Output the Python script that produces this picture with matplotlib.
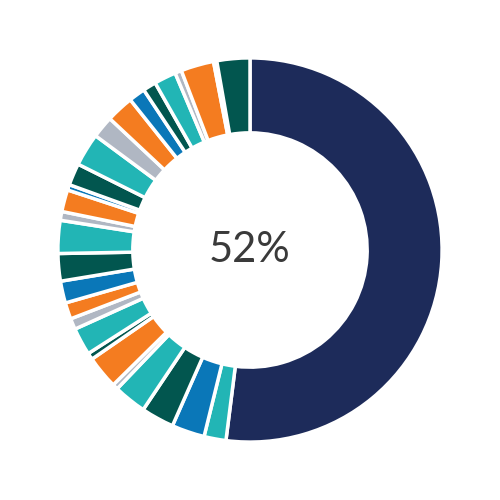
import matplotlib
matplotlib.use("Agg")
import matplotlib.pyplot as plt

C = {"navy": "#1d2b5a", "teal": "#22b5b5", "blue": "#0a77b8", "dg": "#02564f",
     "gray": "#b0b7c3", "or": "#f47c20"}
values = [52, 2, 3, 3, 3, 0.5, 3, 0.6, 2.5, 1, 1.5, 2, 2.5, 3, 0.8, 2, 0.5, 2, 3, 2, 2.5,
          1.5, 1.2, 2, 0.6, 3, 0.3, 3]
colors = ["navy", "teal", "blue", "dg", "teal", "gray", "or", "dg", "teal", "gray", "or", "blue",
          "dg", "teal", "gray", "or", "blue", "dg", "teal", "gray", "or", "blue", "dg", "teal",
          "gray", "or", "blue", "dg"]
rest = sum(values[1:])
values = [52] + [v * 48 / rest for v in values[1:]]

fig = plt.figure(figsize=(5, 5), dpi=100)
ax = fig.add_axes([0.112, 0.112, 0.776, 0.776])
ax.pie(values, colors=[C[c] for c in colors], startangle=90, counterclock=False,
       wedgeprops=dict(width=0.39, edgecolor="white", linewidth=2.5))
ax.text(0, 0, "52%", ha="center", va="center", fontsize=30, color="#3a3a3a",
        family="Lato")
ax.set_xlim(-1.01, 1.01)
ax.set_ylim(-1.01, 1.01)
ax.set_aspect("equal")
fig.savefig("out.png")
